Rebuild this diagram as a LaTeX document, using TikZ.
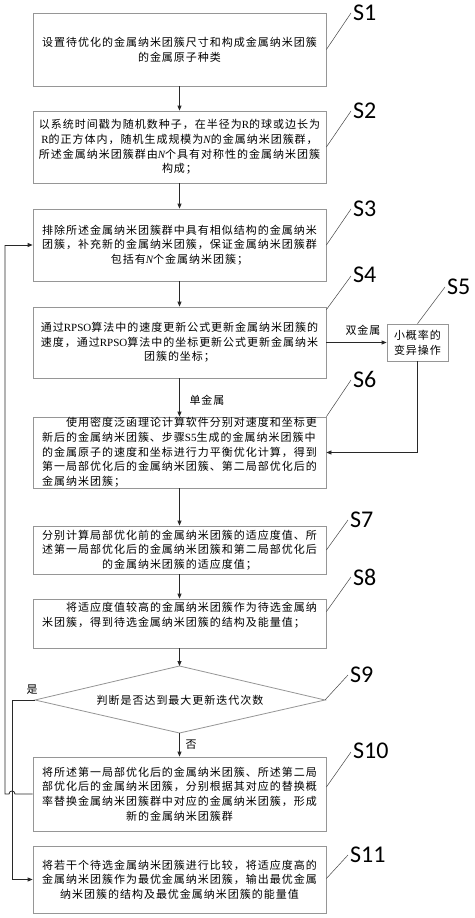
\documentclass[tikz,border=0pt]{standalone}
\usepackage{fontspec}
\newfontfamily\cjk[LetterSpace=9]{Noto Sans CJK SC}
\newfontfamily\latf{Liberation Serif}
\newfontfamily\slabf{Carlito}
\usetikzlibrary{arrows.meta,calc}
\newcommand\lt[1]{{\latf #1}}
\newcommand\ltn{{\latf\itshape N}}
\newcommand\cjktext{\cjk\fontsize{11pt}{14.7pt}\selectfont}
\definecolor{boxgray}{RGB}{150,150,150}
\definecolor{linegray}{RGB}{40,40,40}
\definecolor{leadgray}{RGB}{70,70,70}
\begin{document}
\begin{tikzpicture}[x=1pt,y=-1pt,
  box/.style={draw=boxgray, line width=0.8pt, minimum width=293pt, inner sep=0pt, align=center, font=\cjktext},
  arr/.style={draw=linegray, line width=0.8pt, -{Triangle[length=5pt,width=4pt]}},
  conn/.style={draw=linegray, line width=0.8pt},
  lead/.style={draw=leadgray, line width=0.5pt},
  slab/.style={font=\slabf\fontsize{24pt}{24pt}\selectfont, inner sep=0pt, anchor=west},
  elab/.style={font=\cjktext, inner sep=0pt}]
\useasboundingbox (0,0) rectangle (474,918);
\fill[white] (0,0) rectangle (474,918);

% boxes
\node[box, minimum height=73pt] (S1) at (179.5,49.5)
  {设置待优化的金属纳米团簇尺寸和构成金属纳米团簇\\的金属原子种类};
\node[box, minimum height=72pt] (S2) at (179.5,147)
  {以系统时间戳为随机数种子，在半径为\lt{R}的球或边长为\\\lt{R}的正方体内，随机生成规模为\ltn 的金属纳米团簇群，\\所述金属纳米团簇群由\ltn 个具有对称性的金属纳米团簇\\构成；};
\node[box, minimum height=72pt] (S3) at (179.5,245)
  {排除所述金属纳米团簇群中具有相似结构的金属纳米\\团簇，补充新的金属纳米团簇，保证金属纳米团簇群\\包括有\ltn 个金属纳米团簇；};
\node[box, minimum height=71pt] (S4) at (179.5,342.5)
  {通过\lt{RPSO}算法中的速度更新公式更新金属纳米团簇的\\速度，通过\lt{RPSO}算法中的坐标更新公式更新金属纳米\\团簇的坐标；};
\node[box, minimum width=61pt, minimum height=37pt] (S5) at (417.5,342.5)
  {小概率的\\变异操作};
\node[box, minimum height=71pt, align=left] (S6) at (179.5,452.5)
  {\hspace*{24pt}使用密度泛函理论计算软件分别对速度和坐标更\\新后的金属纳米团簇、步骤\lt{S5}生成的金属纳米团簇中\\的金属原子的速度和坐标进行力平衡优化计算，得到\\第一局部优化后的金属纳米团簇、第二局部优化后的\\金属纳米团簇；};
\node[box, minimum height=48pt] (S7) at (179.5,550)
  {分别计算局部优化前的金属纳米团簇的适应度值、所\\述第一局部优化后的金属纳米团簇和第二局部优化后\\的金属纳米团簇的适应度值；};
\node[box, minimum height=49pt, align=left] (S8) at (179.5,623.5)
  {\hspace*{24pt}将适应度值较高的金属纳米团簇作为待选金属纳\\米团簇，得到待选金属纳米团簇的结构及能量值；\\[4pt]};
\node[box, minimum height=74pt] (S10) at (179.5,794)
  {将所述第一局部优化后的金属纳米团簇、所述第二局\\部优化后的金属纳米团簇，分别根据其对应的替换概\\率替换金属纳米团簇群中对应的金属纳米团簇，形成\\新的金属纳米团簇群};
\node[box, minimum height=67pt] (S11) at (179.5,879.5)
  {将若干个待选金属纳米团簇进行比较，将适应度高的\\金属纳米团簇作为最优金属纳米团簇，输出最优金属\\纳米团簇的结构及最优金属纳米团簇的能量值};

% decision diamond
\coordinate (dl) at (35,700);
\coordinate (dt) at (179.5,666);
\coordinate (dr) at (325,700);
\coordinate (db) at (179.5,733);
\draw[draw=boxgray, line width=0.8pt] (dl) -- (dt) -- (dr) -- (db) -- cycle;
\node[elab] (S9) at (180,700) {判断是否达到最大更新迭代次数};

% main arrows
\draw[arr] (S1) -- (S2);
\draw[arr] (S2) -- (S3);
\draw[arr] (S3) -- (S4);
\draw[arr] (S4) -- (S6);
\draw[arr] (S4.east) -- (S5.west);
\draw[arr] (S5.south) |- (S6.east);
\draw[arr] (S6) -- (S7);
\draw[arr] (S7) -- (S8);
\draw[arr] (S8) -- (dt);
\draw[arr] (db) -- (S10);

% edge labels
\node[elab] (lsingle) at (207,400) {单金属};
\node[elab] (ldouble) at (363,330) {双金属};
\node[elab] (lyes) at (32,690) {是};
\node[elab] (lno) at (191,745) {否};

% loop back: S10 -> S3 (outer), with hop over inner line
\coordinate (o1) at (5,794);
\coordinate (o2) at (5,245);
\coordinate (h1) at (15,794);
\coordinate (h2) at (9,794);
\draw[conn] (S10.west) -- (h1) .. controls (15,790) and (9,790) .. (h2) -- (o1) -- (o2);
\draw[arr] (o2) -- (S3.west);

% yes branch: diamond -> S11 (inner)
\coordinate (i1) at (12,700);
\coordinate (i2) at (12,879.5);
\draw[conn] (dl) -- (i1) -- (i2);
\draw[arr] (i2) -- (S11.west);

% step labels
\node[slab] (L1) at (353,13) {S1};
\node[slab] (L2) at (353,111) {S2};
\node[slab] (L3) at (353,209) {S3};
\node[slab] (L4) at (353,275) {S4};
\node[slab] (L5) at (447,287) {S5};
\node[slab] (L6) at (353,379) {S6};
\node[slab] (L7) at (350,520) {S7};
\node[slab] (L8) at (353,577) {S8};
\node[slab] (L9) at (350,675) {S9};
\node[slab] (L10) at (353,751) {S10};
\node[slab] (L11) at (350,855) {S11};

\draw[lead] (S1.east) -- ($(L1.west)+(-2,0)$);
\draw[lead] (S2.east) -- ($(L2.west)+(-2,0)$);
\draw[lead] (S3.east) -- ($(L3.west)+(-2,0)$);
\draw[lead] ($(S4.north east)+(0,3)$) -- ($(L4.west)+(-2,1)$);
\draw[lead] (S5.north) -- ($(L5.west)+(-2,0)$);
\draw[lead] (S6.north east) -- ($(L6.west)+(-2,1)$);
\draw[lead] (S7.east) -- ($(L7.west)+(-2,0)$);
\draw[lead] ($(S8.north east)+(0,13)$) -- ($(L8.west)+(-2,0)$);
\draw[lead] (dr) -- ($(L9.west)+(-2,0)$);
\draw[lead] ($(S10.east)+(0,-7)$) -- ($(L10.west)+(-2,1)$);
\draw[lead] ($(S11.east)+(0,-1)$) -- ($(L11.west)+(-2,0)$);
\end{tikzpicture}
\end{document}
